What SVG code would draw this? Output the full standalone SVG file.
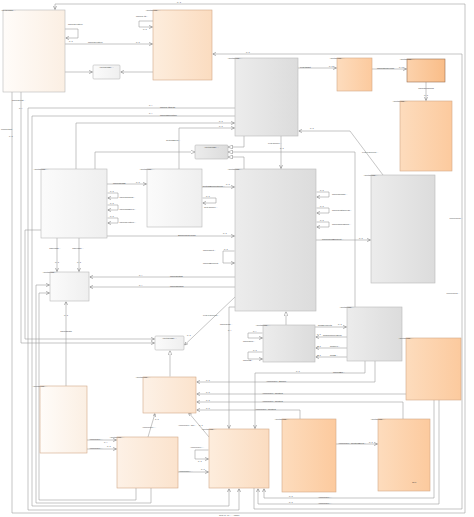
<svg xmlns="http://www.w3.org/2000/svg" width="474" height="517" viewBox="0 0 474 517">
<style>
.l{font-family:"Liberation Sans",Arial,sans-serif;font-size:2.3px;fill:#444}
.m{text-anchor:middle}
.c{fill:none;stroke:#a0a0a0;stroke-width:0.6}
.a{marker-end:url(#ar)}
.g{marker-end:url(#gt)}
.n{stroke:#b8b8b8;stroke-width:0.6}
.np{stroke:#d2a888;stroke-width:0.6}
</style>
<defs>
<linearGradient id="gGray" x1="0" x2="1"><stop offset="0" stop-color="#ececec"/><stop offset="1" stop-color="#dcdcdc"/></linearGradient>
<linearGradient id="gPale" x1="0" x2="1"><stop offset="0" stop-color="#fbfbfb"/><stop offset="1" stop-color="#efefef"/></linearGradient>
<linearGradient id="gPeach" x1="0" x2="1"><stop offset="0" stop-color="#fddcbd"/><stop offset="1" stop-color="#fcca9e"/></linearGradient>
<linearGradient id="gPeachD" x1="0" x2="1"><stop offset="0" stop-color="#fcd2ac"/><stop offset="1" stop-color="#f9bd88"/></linearGradient>
<linearGradient id="gPeachM" x1="0" x2="1"><stop offset="0" stop-color="#fdeddd"/><stop offset="1" stop-color="#fbdcc0"/></linearGradient>
<linearGradient id="gPeachL" x1="0" x2="1"><stop offset="0" stop-color="#fdf1e6"/><stop offset="1" stop-color="#fbe3cd"/></linearGradient>
<linearGradient id="gVPale" x1="0" x2="1"><stop offset="0" stop-color="#fffcf9"/><stop offset="1" stop-color="#fbefe3"/></linearGradient>
<marker id="ar" viewBox="0 0 6 6" refX="6" refY="3" markerWidth="3.5" markerHeight="3.5" orient="auto" markerUnits="userSpaceOnUse"><path d="M0,0.3 L6,3 L0,5.7" fill="none" stroke="#777" stroke-width="0.9"/></marker>
<marker id="gt" viewBox="0 0 8 8" refX="8" refY="4" markerWidth="4.5" markerHeight="4.5" orient="auto" markerUnits="userSpaceOnUse"><path d="M0,0.5 L8,4 L0,7.5 Z" fill="#fff" stroke="#777" stroke-width="0.8"/></marker>
</defs>
<rect width="474" height="517" fill="#fff"/>

<g id="connectors">
<path class="c a" d="M12,92 V513 H465 V4 H55 V9.5"/>
<text class="l m" x="179" y="2.6">0..1</text>
<text class="l" x="1" y="130">connection</text>
<text class="l" x="9" y="136.5">0..1</text>
<path class="c a" d="M65,29 H78 V38 H65.5"/>
<text class="l" x="68" y="25">ownedFeature</text>
<text class="l" x="69" y="41.5">0..1</text>
<path class="c a" d="M65,44 H152.5"/>
<text class="l" x="88" y="43.3">ownedFeature</text>
<text class="l" x="136" y="42.8">0..1</text>
<path class="c a" d="M65,72 H92.5"/>
<path class="c a" d="M153,72 H120.5"/>
<path class="c a" d="M153,21 H139 V27 H152.5"/>
<text class="l" x="136" y="17">ownedAttr...</text>
<text class="l" x="143" y="29.5">0..1</text>
<path class="c a" d="M254,488 V509 H462 V54 H212.5"/>
<text class="l" x="246" y="52.7">0..1</text>
<text class="l m" x="456" y="218.5">referenced...</text>
<text class="l m" x="453" y="293.5">referenced...</text>
<path class="c a" d="M235,108 H28 V510 H239 V488.5"/>
<text class="l" x="160" y="107.5">ownedAttribute</text>
<text class="l" x="149" y="106.3">0..*</text>
<path class="c a" d="M235,116 H32 V506 H229 V488.5"/>
<text class="l" x="160" y="115.5">ownedOperation</text>
<text class="l" x="149" y="114.3">0..*</text>
<path class="c a" d="M76,169 V123 H234.5"/>
<text class="l" x="219" y="121.8">0..1</text>
<path class="c a" d="M179,169 V128 H234.5"/>
<text class="l" x="219" y="126.8">0..1</text>
<text class="l" x="166" y="141">TextualElem...</text>
<path class="c g" d="M95,169 V152 H195"/>
<path class="c g" d="M244,136 V147 H228"/>
<path class="c g" d="M244,169 V157 H228"/>
<path class="c g" d="M355,307 V152 H228"/>
<path class="c a" d="M281,136 V168.5"/>
<text class="l" x="268" y="143.5">eval source...</text>
<text class="l" x="280" y="148.5">0..1</text>
<path class="c a" d="M383,175 L350,131 H298.5"/>
<text class="l" x="310" y="129.3">0..1</text>
<text class="l" x="362" y="152.5">eval reference...</text>
<path class="c a" d="M298,68 H336.5"/>
<text class="l" x="300" y="67.5">eval target</text>
<text class="l" x="329" y="66.5">0..1</text>
<path class="c a" d="M372,69 H406.5"/>
<text class="l" x="377" y="68.5">ownedReference</text>
<text class="l" x="399" y="67.5">0..1</text>
<path class="c a" d="M426,82 V100.5"/>
<text class="l m" x="426" y="88.5">ownedMapping</text>
<text class="l m" x="426" y="95.5">0..1</text>
<path class="c a" d="M107,184 H146.5"/>
<text class="l" x="113" y="183.5">ownedClass</text>
<text class="l" x="136" y="182.5">0..1</text>
<path class="c a" d="M107.5,193 H118 V198 H107.5"/>
<text class="l" x="110" y="192.3">0..1</text>
<text class="l" x="119.5" y="197.5">ownedCalling...</text>
<path class="c a" d="M107.5,205 H118 V210 H107.5"/>
<text class="l" x="110" y="204.3">0..1</text>
<text class="l" x="119.5" y="209.5">ownedTaskFlo...</text>
<path class="c a" d="M107.5,218 H118 V223 H107.5"/>
<text class="l" x="110" y="217.3">0..1</text>
<text class="l" x="119.5" y="222.5">ownedFeature...</text>
<path class="c a" d="M202,187 H234.5"/>
<text class="l" x="202.5" y="186.5">TextualElementProp...</text>
<text class="l" x="226" y="185.3">0..1</text>
<path class="c a" d="M202.5,198 H216 V203 H202.5"/>
<text class="l" x="206" y="197.3">0..1</text>
<text class="l" x="204" y="208">Text source...</text>
<path class="c a" d="M107,236 H234.5"/>
<text class="l" x="178" y="235.5">SourceReference</text>
<text class="l" x="223" y="234.3">0..1</text>
<path class="c a" d="M234.5,251 H223 V263 H234.5"/>
<text class="l" x="224" y="250">0..1</text>
<text class="l" x="203" y="251">ownedText...</text>
<text class="l" x="203" y="263.5">ownedElement</text>
<path class="c a" d="M235,277 H89.5"/>
<text class="l" x="139" y="275.6">0..*</text>
<text class="l" x="170" y="276.6">ownedPaths</text>
<path class="c a" d="M235,287 H89.5"/>
<text class="l" x="139" y="285.6">0..*</text>
<text class="l" x="170" y="286.6">ownedNodes</text>
<path class="c a" d="M235,297 L184.5,345"/>
<text class="l" x="203" y="315.5">eval reference...</text>
<text class="l" x="187" y="335.5">0..1</text>
<path class="c a" d="M235,307 H229 V428.5"/>
<text class="l" x="220" y="324.5">ownedInfo...</text>
<text class="l" x="228" y="330.5">0..*</text>
<path class="c a" d="M316.5,192 H329 V197 H316.5"/>
<text class="l" x="320" y="191.3">0..1</text>
<text class="l" x="332" y="195.3">ownedComm...</text>
<path class="c a" d="M316.5,208 H329 V213 H316.5"/>
<text class="l" x="320" y="207.3">0..1</text>
<text class="l" x="332" y="211.3">ownedInstanceOf...</text>
<path class="c a" d="M316.5,222 H329 V227 H316.5"/>
<text class="l" x="320" y="221.3">0..1</text>
<text class="l" x="332" y="225.3">ownedTransform...</text>
<path class="c a" d="M316,240 H370.5"/>
<text class="l" x="322" y="239.5">referencedElement...</text>
<text class="l" x="359" y="238.5">0..1</text>
<path class="c g" d="M286,325 V311.5"/>
<path class="c a" d="M262.5,333 H248 V338 H262.5"/>
<text class="l" x="253" y="331.5">0..*</text>
<text class="l" x="243" y="341.5">ownedPro...</text>
<path class="c a" d="M262.5,352 H248 V359 H262.5"/>
<text class="l" x="253" y="350.5">0..1</text>
<text class="l" x="243" y="361">ownedS...</text>
<path class="c a" d="M315,327 H346.5"/>
<text class="l" x="318" y="325.5">dualElements</text>
<text class="l" x="338" y="324.5">0..1</text>
<path class="c a" d="M347,337 H315.5"/>
<text class="l" x="323" y="335.5">dualComplexElem</text>
<text class="l" x="317" y="335">0..1</text>
<path class="c a" d="M347,348 H315.5"/>
<text class="l" x="317" y="346.5">0..1</text>
<text class="l" x="330" y="346.5">dualPro...</text>
<path class="c a" d="M347,357 H315.5"/>
<text class="l" x="317" y="355.5">0..1</text>
<text class="l" x="330" y="355.5">dualB...</text>
<path class="c a" d="M365,361 V373 H255 V428.5"/>
<text class="l" x="333" y="372.5">ownedBlo...</text>
<text class="l" x="296" y="371.5">0..1</text>
<path class="c a" d="M375,361 V382 H196.5"/>
<text class="l" x="266" y="381.5">«reference» Source</text>
<text class="l" x="206" y="380.5">0..1</text>
<path class="c g" d="M170,376.5 V350.5"/>
<path class="c a" d="M406,394 H196.5"/>
<text class="l" x="262" y="393.5">«reference» Related</text>
<text class="l" x="206" y="392.5">0..1</text>
<path class="c a" d="M403,419 V402 H196.5"/>
<text class="l" x="262" y="401.5">«reference» Related</text>
<text class="l" x="206" y="400.5">0..1</text>
<path class="c a" d="M300,419 V410 H196.5"/>
<text class="l" x="255" y="409.5">«reference» Related</text>
<text class="l" x="206" y="408.5">0..1</text>
<path class="c a" d="M209,437 L188.5,412.5"/>
<text class="l" x="178" y="426">«reference» Rel...</text>
<text class="l" x="199" y="425.5">0..1</text>
<path class="c a" d="M148,437 L155,413.5"/>
<text class="l" x="155" y="419.5">0..1</text>
<text class="l" x="142" y="427.5">«reference»...</text>
<path class="c a" d="M87,440 H116.5"/>
<text class="l" x="89" y="439.5">«reference»...</text>
<text class="l" x="104" y="443">0..*</text>
<path class="c a" d="M87,449 H116.5"/>
<text class="l" x="89" y="448.5">«reference»...</text>
<text class="l" x="107" y="447.3">0..1</text>
<path class="c a" d="M178,472 H208.5"/>
<text class="l" x="178.5" y="471.5">«reference»...</text>
<text class="l" x="201" y="469.8">0..1</text>
<path class="c a" d="M208.5,450 H195 V459 H208.5"/>
<text class="l" x="190" y="447.8">«reference»...</text>
<text class="l" x="198" y="461.5">0..1</text>
<path class="c a" d="M336,444 H377.5"/>
<text class="l" x="338" y="443.5">«reference» RelatedElem...</text>
<text class="l" x="369" y="442.5">0..1</text>
<path class="c a" d="M434,400 V498 H264 V488.5"/>
<text class="l" x="289" y="496.5">0..1</text>
<text class="l" x="318" y="497.5">«reference»...</text>
<path class="c a" d="M439,400 V504 H258 V488.5"/>
<text class="l" x="289" y="502.5">0..1</text>
<text class="l" x="318" y="503.5">«reference»...</text>
<path class="c a" d="M66,386 V301.5"/>
<text class="l m" x="66" y="315.5">0..1</text>
<text class="l m" x="66" y="331.5">ownedPath</text>
<path class="c a" d="M57,238 V271.5"/>
<path class="c a" d="M79,238 V271.5"/>
<text class="l m" x="55" y="248.5">ownedCo...</text>
<text class="l m" x="78" y="248.5">ownedRe...</text>
<text class="l m" x="57" y="263">0..1</text>
<text class="l m" x="79" y="263">0..1</text>
<path class="c a" d="M151,488 V503 H36 V285 H49.5"/>
<path class="c a" d="M136,488 V500 H39 V293 H49.5"/>
<path class="c a" d="M21,92 V343 H154.5"/>
<text class="l" x="12" y="100.5">ownedFeat...</text>
<text class="l" x="19" y="108.5">0..*</text>
<path class="c a" d="M41,230 H25 V339 H154.5"/>
<text class="l" x="219" y="515.5">Text (0..1) : ... name</text>
</g>

<g id="n1"><rect class="n" x="3" y="10" width="62" height="82" fill="url(#gVPale)"/><text class="l" x="1" y="11.3">«metaclass»...</text></g>
<g id="n2"><rect class="np" x="153" y="10" width="59" height="70" fill="url(#gPeachM)"/><text class="l m" x="153" y="11.3">«metaclass»...</text></g>
<g id="n3"><rect class="n" x="93" y="65" width="27" height="14" rx="1" fill="url(#gPale)"/><text class="l m" x="106.5" y="68.3">«metaclass»...</text></g>
<g id="n4"><rect class="n" x="235" y="58" width="63" height="78" fill="url(#gGray)"/><text class="l m" x="235" y="59.3">«metaclass»...</text></g>
<g id="n5"><rect class="np" x="337" y="58" width="35" height="33" fill="url(#gPeach)"/><text class="l m" x="337" y="59.3">«metaclass»...</text></g>
<g id="n6"><rect stroke="#9a7050" stroke-width="0.6" x="407" y="59" width="38" height="23" fill="url(#gPeachD)"/><text class="l m" x="407" y="60.3">«metaclass»...</text></g>
<g id="n7"><rect class="np" x="400" y="101" width="52" height="70" fill="url(#gPeach)"/><text class="l m" x="400" y="102.3">«metaclass»...</text></g>
<g id="n8"><rect class="n" x="195" y="145" width="33" height="14" rx="1" fill="url(#gGray)"/><text class="l m" x="211.5" y="148.3">«metaclass»...</text></g>
<g id="n9"><rect class="n" x="41" y="169" width="66" height="69" fill="url(#gPale)"/><text class="l m" x="41" y="170.3">«metaclass»...</text></g>
<g id="n10"><rect class="n" x="147" y="169" width="55" height="58" fill="url(#gPale)"/><text class="l m" x="147" y="170.3">«metaclass»...</text></g>
<g id="n11"><rect class="n" x="235" y="169" width="81" height="142" fill="url(#gGray)"/><text class="l m" x="235" y="170.3">«metaclass»...</text></g>
<g id="n12"><rect class="n" x="371" y="175" width="64" height="108" fill="url(#gGray)"/><text class="l m" x="371" y="176.3">«metaclass»...</text></g>
<g id="n13"><rect class="n" x="50" y="272" width="39" height="29" fill="url(#gPale)"/><text class="l m" x="50" y="273.3">«metaclass»...</text></g>
<g id="n14"><rect class="n" x="263" y="325" width="52" height="37" fill="url(#gGray)"/><text class="l m" x="263" y="326.3">«metaclass»...</text></g>
<g id="n15"><rect class="n" x="347" y="307" width="55" height="54" fill="url(#gGray)"/><text class="l m" x="347" y="308.3">«metaclass»...</text></g>
<g id="n16"><rect class="n" x="155" y="336" width="29" height="14" rx="1" fill="url(#gPale)"/><text class="l m" x="169.5" y="339.3">«metaclass»...</text></g>
<g id="n17"><rect class="np" x="406" y="338" width="55" height="62" fill="url(#gPeach)"/><text class="l m" x="406" y="339.3">«metaclass»...</text></g>
<g id="n18"><rect class="np" x="40" y="386" width="47" height="67" fill="url(#gVPale)"/><text class="l m" x="40" y="387.3">«metaclass»...</text></g>
<g id="n19"><rect class="np" x="143" y="377" width="53" height="36" fill="url(#gPeachL)"/><text class="l m" x="143" y="378.3">«metaclass»...</text></g>
<g id="n20"><rect class="np" x="117" y="437" width="61" height="51" fill="url(#gPeachL)"/><text class="l m" x="117" y="438.3">«metaclass»...</text></g>
<g id="n21"><rect class="np" x="209" y="429" width="60" height="59" fill="url(#gPeachM)"/><text class="l m" x="209" y="430.3">«metaclass»...</text></g>
<g id="n22"><rect class="np" x="282" y="419" width="54" height="73" fill="url(#gPeach)"/><text class="l m" x="282" y="420.3">«metaclass»...</text></g>
<g id="n23"><rect class="np" x="378" y="419" width="52" height="72" fill="url(#gPeach)"/><text class="l m" x="378" y="420.3">«metaclass»...</text><text class="l m" x="414" y="482.5">Text</text></g>
</svg>
